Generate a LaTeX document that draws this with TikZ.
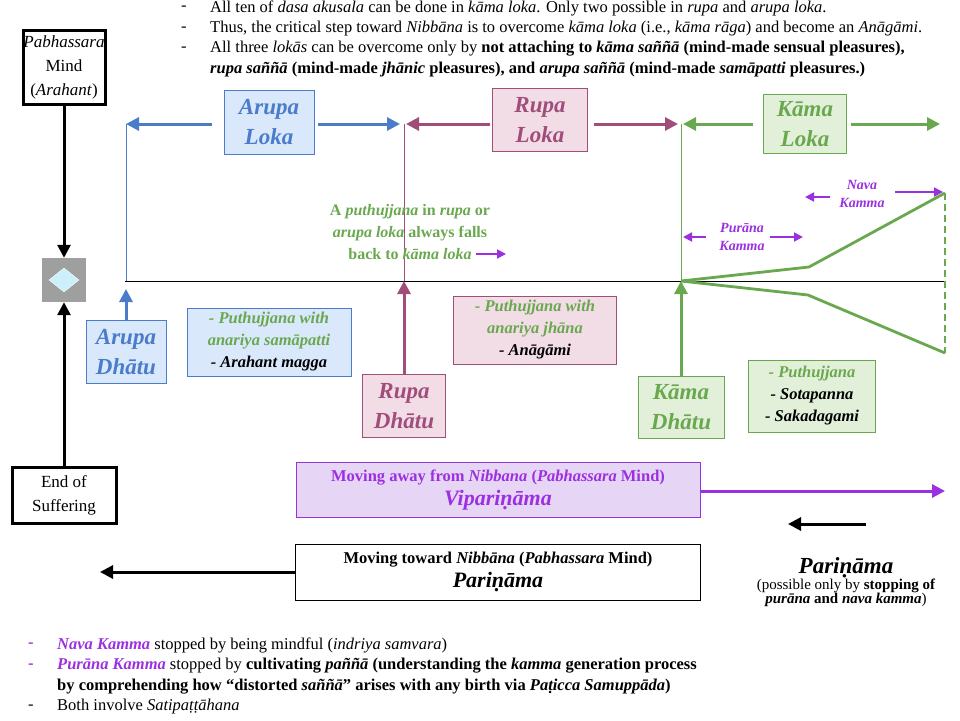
\documentclass[tikz,border=0pt]{standalone}
\usepackage{fontspec}
\setmainfont{Liberation Serif}
\usetikzlibrary{arrows.meta,shapes.geometric}
\definecolor{colb}{HTML}{4A7CC9}\definecolor{colbf}{HTML}{DAE8FC}
\definecolor{colm}{HTML}{A04D7A}\definecolor{colmf}{HTML}{F2DCE6}
\definecolor{colg}{HTML}{6AA84F}\definecolor{colgf}{HTML}{E2F0D9}
\definecolor{colp}{HTML}{9B30E0}\definecolor{colpf}{HTML}{E6D5F5}
\begin{document}
\begin{tikzpicture}[x=1pt,y=-1pt,
 txt/.style={font=\fontsize{16.5}{19}\selectfont,anchor=west,inner sep=0},
 box/.style={draw,line width=#1,align=center,inner sep=0},
 bx/.style={draw,align=center,font=\fontsize{16.5}{22}\selectfont\bfseries\itshape},
 lk/.style={bx,font=\fontsize{23}{30}\selectfont\bfseries\itshape},
 ar/.style={-{Triangle[length=13,width=13]},line width=3},
 par/.style={-{Triangle[length=9,width=9]},line width=1.8,colp},
 blk/.style={-{Triangle[length=13,width=13]},line width=3}]
\useasboundingbox (0,0) rectangle (960,720);
% top bullets
\foreach \y/\t in {8/{All ten of \textit{dasa akusala} can be done in \textit{kāma loka}. Only two possible in \textit{rupa} and \textit{arupa loka}.},
 29/{Thus, the critical step toward \textit{Nibbāna} is to overcome \textit{kāma loka} (i.e., \textit{kāma rāga}) and become an \textit{Anāgāmi}.},
 49/{All three \textit{lokās} can be overcome only by \textbf{not attaching to \textit{kāma saññā} (mind-made sensual pleasures),}},
 70/{\textbf{\textit{rupa saññā} (mind-made \textit{jhānic} pleasures), and \textit{arupa saññā} (mind-made \textit{samāpatti} pleasures.)}}}
 \node[txt] (t\y) at (210,\y) {\t};
\foreach \y in {8,29,49} \node[txt] (d\y) at (181,\y) {-};
% left column
\node[box=3pt,minimum width=82,minimum height=74,font=\fontsize{17}{24}\selectfont] (pab) at (64,67) {\textit{Pabhassara}\\Mind\\(\textit{Arahant})};
\node[fill=gray!75,minimum size=44,inner sep=0] (gem) at (64,280) {};
\node[diamond,fill=cyan!20,draw=white,minimum width=30,minimum height=24,inner sep=0] (gemd) at (64,280) {};
\node[box=3pt,minimum width=104,minimum height=56,font=\fontsize{17}{24}\selectfont] (end) at (64,495) {End of\\Suffering};
\draw[blk] (pab) -- (gem);
\draw[blk] (end) -- (gem);
% main line
\coordinate (L0) at (125,281); \coordinate (L1) at (945,281);
\draw[line width=1] (L0) -- (L1);
\coordinate (vb) at (126,124); \coordinate (vm) at (404,124); \coordinate (vg) at (681,124);
\coordinate (hb) at (126,281); \coordinate (hm) at (404,281); \coordinate (hg) at (681,281);
\draw[colb] (vb) -- (hb); \draw[colm] (vm) -- (hm); \draw[colg] (vg) -- (hg);
% loka boxes
\node[lk,fill=colbf,draw=colb,text=colb,minimum width=90,minimum height=64] (al) at (269,122) {Arupa\\Loka};
\node[lk,fill=colmf,draw=colm,text=colm,minimum width=95,minimum height=63] (rl) at (540,120) {Rupa\\Loka};
\node[lk,fill=colgf,draw=colg,text=colg,minimum width=83,minimum height=59] (kl) at (805,124) {Kāma\\Loka};
\draw[ar,colb] ([xshift=-12]al.west|-vb) -- (vb);
\draw[ar,colb] ([xshift=4]al.east|-vb) -- (400,124);
\draw[ar,colm] ([xshift=-2]rl.west|-vb) -- (406,124);
\draw[ar,colm] ([xshift=6]rl.east|-vb) -- (678,124);
\coordinate (ge) at (940,124);
\draw[ar,colg] ([xshift=-10]kl.west|-vb) -- (683,124);
\draw[ar,colg] ([xshift=4]kl.east|-vb) -- (ge);
% green text
\node[align=center,text=colg,font=\fontsize{16}{22}\selectfont\bfseries] (fall) at (410,232) {A \textit{puthujjana} in \textit{rupa} or\\ \textit{arupa loka} always falls\\ back to \textit{kāma loka}\hspace{38pt}};
\coordinate (fa1) at (476,254); \coordinate (fa2) at (506,254);
\draw[par] (fa1) -- (fa2);
% kamma
\node[align=center,text=colp,font=\fontsize{14}{18}\selectfont\bfseries\itshape] (pk) at (742,237) {Purāna\\Kamma};
\coordinate (pk1) at (706,237); \coordinate (pk2) at (683,237); \coordinate (pk3) at (770,237); \coordinate (pk4) at (803,237);
\draw[par] (pk1) -- (pk2); \draw[par] (pk3) -- (pk4);
\node[align=center,text=colp,font=\fontsize{14}{18}\selectfont\bfseries\itshape] (nk) at (862,194) {Nava\\Kamma};
\coordinate (nk1) at (830,197); \coordinate (nk2) at (805,197); \coordinate (nk3) at (895,192); \coordinate (nk4) at (943,192);
\draw[par] (nk1) -- (nk2); \draw[par] (nk3) -- (nk4);
% funnel
\coordinate (f1) at (809,267); \coordinate (f2) at (945,193); \coordinate (f3) at (808,295); \coordinate (f4) at (945,353);
\draw[colg,line width=2.8] (hg) -- (f1) -- (f2);
\draw[colg,line width=2.8] (hg) -- (f3) -- (f4);
\draw[colg,line width=1.5,dash pattern=on 7pt off 4pt] (f2) -- (f4);
% dhatu boxes
\node[lk,fill=colbf,draw=colb,text=colb,minimum width=80,minimum height=63] (ad) at (126,352) {Arupa\\Dhātu};
\node[lk,fill=colmf,draw=colm,text=colm,minimum width=83,minimum height=63] (rd) at (404,406) {Rupa\\Dhātu};
\node[lk,fill=colgf,draw=colg,text=colg,minimum width=86,minimum height=62] (kd) at (681,407) {Kāma\\Dhātu};
\draw[ar,colb] (ad) -- (126,289);
\draw[ar,colm] (rd) -- (hm);
\draw[ar,colg] (kd) -- (hg);
% text boxes
\node[bx,fill=colbf,draw=colb,minimum width=164,minimum height=68] (tb) at (269,342) {\textcolor{colg}{- Puthujjana with}\\ \textcolor{colg}{anariya samāpatti}\\- Arahant magga};
\node[bx,fill=colmf,draw=colm,minimum width=163,minimum height=68] (tm) at (535,330) {\textcolor{colg}{- Puthujjana with}\\ \textcolor{colg}{anariya jhāna}\\- Anāgāmi};
\node[bx,fill=colgf,draw=colg,minimum width=127,minimum height=72] (tg) at (812,396) {\textcolor{colg}{- Puthujjana}\\- Sotapanna\\- Sakadagami};
% viparinama
\node[draw=colp,fill=colpf,minimum width=404,minimum height=55,align=center,text=colp] (vip) at (498,490) {{\fontsize{16.5}{19}\selectfont\bfseries Moving away from \textit{Nibbana} (\textit{Pabhassara} Mind)}\\[4pt]{\fontsize{22}{24}\selectfont\bfseries\itshape Vipariṇāma}};
\coordinate (ve) at (945,491);
\draw[ar,colp] (vip.east|-ve) -- (ve);
\coordinate (ba1) at (866,524); \coordinate (ba2) at (788,524);
\draw[blk] (ba1) -- (ba2);
\node[draw,minimum width=405,minimum height=56,align=center] (par) at (498,572) {{\fontsize{16.5}{19}\selectfont\bfseries Moving toward \textit{Nibbāna} (\textit{Pabhassara} Mind)}\\[4pt]{\fontsize{22}{24}\selectfont\bfseries\itshape Pariṇāma}};
\coordinate (pe) at (100,572);
\draw[blk] (par.west) -- (pe);
\node[align=center] (par2) at (846,582) {{\fontsize{23}{26}\selectfont\bfseries\itshape Pariṇāma}\\{\fontsize{15}{21}\selectfont (possible only by \textbf{stopping of}}\\{\fontsize{15}{21}\selectfont\bfseries\itshape purāna \upshape and \itshape nava kamma\mdseries\upshape)}};
% bottom bullets
\node[txt,text=colp] (bd1) at (28,645) {\textbf{-}};
\node[txt,text=colp] (bd2) at (28,666) {\textbf{-}};
\node[txt] (bd3) at (28,707) {-};
\node[txt] (b1) at (57,645) {\textcolor{colp}{\textbf{\textit{Nava Kamma}}} stopped by being mindful (\textit{indriya samvara})};
\node[txt] (b2) at (57,666) {\textcolor{colp}{\textbf{\textit{Purāna Kamma}}} stopped by \textbf{cultivating \textit{paññā} (understanding the \textit{kamma} generation process}};
\node[txt] (b3) at (57,687) {\textbf{by comprehending how “distorted \textit{saññā}” arises with any birth via \textit{Paṭicca Samuppāda})}};
\node[txt] (b4) at (57,707) {Both involve \textit{Satipaṭṭāhana}};
\end{tikzpicture}
\end{document}
